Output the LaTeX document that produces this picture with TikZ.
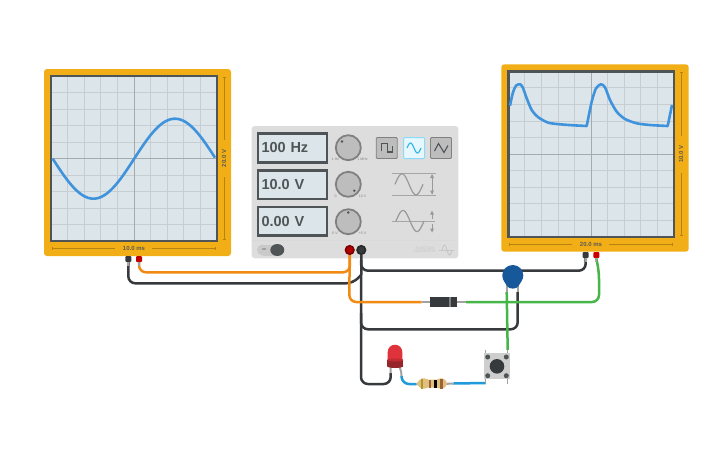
\documentclass[tikz,border=0pt]{standalone}
\usepackage{fontspec}
\setmainfont{Liberation Sans}
\usetikzlibrary{positioning,shapes.geometric}
\definecolor{scopeorange}{HTML}{F2AE16}
\definecolor{screenblue}{HTML}{DCE5E9}
\definecolor{framegray}{HTML}{4F5556}
\definecolor{gridgray}{HTML}{C6CED1}
\definecolor{axisgray}{HTML}{A4ABAD}
\definecolor{traceblue}{HTML}{3F93DC}
\definecolor{genbody}{HTML}{DDDDDD}
\definecolor{knobgray}{HTML}{BDBDBD}
\definecolor{wireblack}{HTML}{363A3C}
\definecolor{wireorange}{HTML}{F08A12}
\definecolor{wiregreen}{HTML}{46B649}
\definecolor{wireblue}{HTML}{1E9BD8}
\definecolor{leadgray}{HTML}{A2A2A2}
\definecolor{capblue}{HTML}{17589B}
\definecolor{ledred}{HTML}{E0323A}
\definecolor{leddark}{HTML}{96252A}
\definecolor{restan}{HTML}{E2BE80}
\definecolor{labelgray}{HTML}{5C5C50}
\tikzset{
  wire/.style={line width=2.5pt,rounded corners=7pt},
  lead/.style={line width=2pt,leadgray},
  scopebody/.style={fill=scopeorange,rounded corners=3pt},
  screenframe/.style={fill=screenblue,draw=framegray,line width=2.4pt},
  gridline/.style={gridgray,line width=1pt},
  trace/.style={traceblue,line width=2.6pt,line join=round},
  ruler/.style={scopeorange!75!black,line width=0.6pt},
  display/.style={draw=framegray,fill=screenblue,line width=2.8pt,minimum width=69pt,minimum height=28.5pt,inner sep=0pt,font=\bfseries\fontsize{14.5}{16}\selectfont,text=framegray,align=left},
  knob/.style={circle,draw=gray,fill=knobgray,line width=1.8pt,minimum size=25pt,inner sep=0pt},
  tinylabel/.style={font=\fontsize{3.5}{4}\selectfont,text=gray,inner sep=0pt},
  wavebutton/.style={draw=gray,fill=knobgray,line width=0.8pt,rounded corners=1pt,minimum size=21pt,inner sep=0pt},
  terminal/.style={circle,draw=#1!70!black,fill=#1,line width=1.6pt,minimum size=8.5pt,inner sep=0pt},
  plug/.style={fill=#1,rounded corners=1pt,minimum width=6pt,minimum height=6pt,inner sep=0pt},
  scopelabel/.style={font=\bfseries\fontsize{6}{7}\selectfont,text=labelgray,inner sep=0pt}
}
\newcommand{\scopegrid}[4]{% left, top, right, bottom
  \foreach \i in {1,...,9}{
    \draw[gridline] ({#1+\i*(#3-#1)/10},#2) -- ({#1+\i*(#3-#1)/10},#4);
    \draw[gridline] (#1,{#2+\i*(#4-#2)/10}) -- (#3,{#2+\i*(#4-#2)/10});
  }
  \draw[axisgray,line width=1pt] ({(#1+#3)/2},#2) -- ({(#1+#3)/2},#4);
  \draw[axisgray,line width=1pt] (#1,{(#2+#4)/2}) -- (#3,{(#2+#4)/2});
}
\begin{document}
\begin{tikzpicture}[x=1pt,y=-1pt]
  \useasboundingbox[fill=white] (0,0) rectangle (725,453);

  % left scope
  \fill[scopebody] (44,69) rectangle (231,256);
  \draw[screenframe] (51,76) rectangle (217,241);
  \scopegrid{51}{76}{217}{241}
  \draw[framegray,line width=2.4pt] (51,76) rectangle (217,241);
  \draw[trace,domain=52.7:215,samples=70] plot (\x,{158.7+40*sin((\x-52.7)/163*360)});
  \node[scopelabel] (timeleft) at (134,248.5) {10.0 ms};
  \draw[ruler] (52.5,247) -- (52.5,250) (52.5,248.5) -- (115,248.5) (152,248.5) -- (215.5,248.5) (215.5,247) -- (215.5,250);
  \node[scopelabel,rotate=90] (voltleft) at (224,158.5) {20.0 V};
  \draw[ruler] (222.5,77) -- (225.5,77) (224,77) -- (224,140) (224,177) -- (224,239) (222.5,239) -- (225.5,239);

  % right scope
  \fill[scopebody] (501.3,64.3) rectangle (688.7,251.7);
  \draw[screenframe] (508.3,71.3) rectangle (674,237);
  \scopegrid{508.3}{71.3}{674}{237}
  \draw[framegray,line width=2.4pt] (508.3,71.3) rectangle (674,237);
  \draw[trace] plot[smooth,tension=0.45] coordinates {(510,105.7) (512.7,93.3) (516,85.7) (520,84.3) (522.7,87.3) (526.7,98.3) (531.7,110) (538.3,117.3) (548.3,122.7) (560,124.3) (573.3,125.3) (586.7,126)}
    -- plot[smooth,tension=0.45] coordinates {(586.7,126) (591.7,101.7) (596,88.3) (601,84.3) (605,87.3) (610,100) (616.7,111.7) (625,119) (636.7,123.3) (650,125) (667.7,126)} -- (672,105);
  \node[scopelabel] (timeright) at (591,244) {20.0 ms};
  \draw[ruler] (509.5,242.5) -- (509.5,245.5) (509.5,244) -- (572,244) (609,244) -- (672.5,244) (672.5,242.5) -- (672.5,245.5);
  \node[scopelabel,rotate=90] (voltright) at (681,154) {10.0 V};
  \draw[ruler] (679.5,72) -- (682.5,72) (681,72) -- (681,136) (681,173) -- (681,235) (679.5,235) -- (682.5,235);

  % function generator
  \fill[genbody,rounded corners=3pt] (251.7,126) rectangle (458.3,258.3);
  \draw[gray!30,line width=0.8pt] (252,240.7) -- (458,240.7);
  \node[display,text width=62pt] (freq) at (292.5,148) {100 Hz};
  \node[display,text width=62pt] (ampl) at (292.5,184.8) {10.0 V};
  \node[display,text width=62pt] (offs) at (292.5,221.2) {0.00 V};
  \node[knob] (knobf) at (348.3,147.7) {};
  \node[knob] (knoba) at (348.3,184.3) {};
  \node[knob] (knobo) at (348.3,221.7) {};
  \fill[framegray] (342,141.5) circle (1.3pt) (354.3,190.7) circle (1.3pt) (348.2,212.5) circle (1.3pt);
  \node[tinylabel] (labfa) at (335.5,159.5) {1 Hz};
  \node[tinylabel] (labfb) at (362.5,159.5) {1 MHz};
  \node[tinylabel] (labaa) at (335.5,196.5) {0};
  \node[tinylabel] (labab) at (362.5,196.5) {10 V};
  \node[tinylabel] (laboa) at (334.5,233.5) {-5 V};
  \node[tinylabel] (labob) at (362.5,233.5) {+5 V};
  \node[wavebutton] (square) at (386.7,148) {};
  \node[wavebutton,draw=cyan!45,fill=white!90!cyan,line width=1pt] (sine) at (414,148) {};
  \node[wavebutton] (triangle) at (441,148) {};
  \draw[framegray,line width=1.1pt] (381.7,151) -- (381.7,143.3) -- (387.3,143.3) -- (387.3,152) -- (392.7,152) -- (392.7,146);
  \draw[traceblue!70!cyan,line width=1.1pt,domain=407:421,samples=30] plot (\x,{148-5*sin((\x-407)/14*360)});
  \draw[framegray,line width=1.1pt] (434.5,151) -- (438.5,143.5) -- (444,152.5) -- (448,145.5);

  \draw[gray!70,line width=0.7pt] (391.7,173.3) -- (435.7,173.3) (391.7,195.3) -- (435.7,195.3);
  \draw[gray!80,line width=1.2pt,domain=395:423,samples=40] plot (\x,{184.3-10.5*sin((\x-395)/28*360)});
  \draw[gray!80,line width=0.6pt] (432,175) -- (432,193.5);
  \fill[gray!80] (432,174) -- (430,178) -- (434,178) -- cycle (432,194.5) -- (430,190.5) -- (434,190.5) -- cycle;
  \draw[gray!70,line width=0.7pt] (392,221) -- (435,221);
  \draw[gray!80,line width=1.2pt,domain=396:424,samples=40] plot (\x,{221-10.5*sin((\x-396)/28*360)});
  \draw[gray!80,line width=0.6pt] (432,213) -- (432,218.5) (432,224) -- (432,231);
  \fill[gray!80] (432,210.7) -- (430,214.7) -- (434,214.7) -- cycle (432,232.5) -- (430,228.5) -- (434,228.5) -- cycle;

  \fill[knobgray!80] (262.5,244.5) rectangle (278,255.5);
  \fill[knobgray!80] (262.5,250) circle (5.5pt);
  \node[tinylabel,text=framegray] (onlabel) at (264,250) {on};
  \node[ellipse,fill=framegray,minimum width=14pt,minimum height=12pt,inner sep=0pt] (switch) at (277.3,250) {};
  \node[tinylabel,text=gray!45,align=center] (genlabel) at (425,250) {FUNCTION\\[-0.5pt]GENERATOR};
  \draw[gray!45,line width=0.6pt] (439,250) -- (454,250);
  \draw[gray!45,line width=0.9pt,domain=442:452,samples=20] plot (\x,{250-5*sin((\x-442)/10*360)});

  % terminals and plugs
  \node[plug=wireblack] (blackleft) at (128.3,259) {};
  \node[plug=red!75!black] (redleft) at (139,259) {};
  \node[plug=wireblack] (blackright) at (585.7,255) {};
  \node[plug=red!80!black] (redright) at (596.3,255) {};
  \node[terminal=red!70!black] (genred) at (349.7,250) {};
  \node[terminal=wireblack] (genblack) at (361.3,250) {};

  % parts
  \coordinate (capleft) at (506.7,292);
  \coordinate (capright) at (517.7,292);
  \coordinate (ledminus) at (390.7,373);
  \coordinate (ledplus) at (401.5,376);
  \coordinate (diodeleft) at (421.7,302);
  \coordinate (dioderight) at (466,302);
  \coordinate (resleft) at (416.7,384);
  \coordinate (resright) at (453.3,383.5);
  \coordinate (btntop) at (507.7,350);
  \coordinate (btnleft) at (485.7,383);
  \coordinate (jointwo) at (361,260);
  \coordinate (jointhree) at (361,313);

  % wires
  \draw[wire,wireblack] (blackleft.south) -- (128.3,283.3) -- (353,283.3) -- (361,275);
  \draw[wire,wireblack] (genblack) -- (361,384) -- (390.7,384) -- (ledminus);
  \draw[wire,wireblack] (jointwo) -- (361,270.7) -- (585.7,270.7) -- (blackright.south);
  \draw[wire,wireblack] (jointhree) -- (361,329.3) -- (517.7,329.3) -- (capright);
  \draw[wire,wireorange] (redleft.south) -- (139,272.3) -- (350,272.3) -- (genred);
  \draw[wire,wireorange] (genred) -- (349.3,302) -- (diodeleft);
  \draw[wire,wiregreen] (dioderight) -- (599,302) -- (599,272) -- (redright.south);
  \draw[wire,wiregreen] (capleft) -- (btntop);
  \draw[wire,wireblue] (ledplus) -- (402,384) -- (resleft);
  \draw[wire,wireblue] (resright) -- (btnleft);
  \draw[lead] (blackleft.south) -- +(0,3.5);
  \draw[lead] (redleft.south) -- +(0,3.5);
  \draw[lead] (blackright.south) -- +(0,3.5);
  \draw[lead] (redright.south) -- +(0,3.5);

  % diode
  \draw[lead] (diodeleft) -- (431,302) (457,302) -- (dioderight);
  \fill[wireblack] (430,297.3) rectangle (457.3,307.3);
  \fill[gray] (448.6,297.3) rectangle (450.6,307.3);

  % capacitor
  \draw[lead] (506.7,284) -- (capleft) (517.7,284) -- (capright);
  \fill[capblue] (512.8,265) .. controls (519,265) and (523.3,270) .. (523.3,275.5) .. controls (523.3,280) and (520,283) .. (518.5,286) .. controls (517.5,288) and (515,288.6) .. (512.8,288.6) .. controls (510.5,288.6) and (508,288) .. (507,286) .. controls (505.5,283) and (502.3,280) .. (502.3,275.5) .. controls (502.3,270) and (506.5,265) .. (512.8,265) -- cycle;

  % led
  \draw[lead] (390.7,366) -- (ledminus) (399.5,366) .. controls (400.5,370) and (401.5,372) .. (ledplus);
  \fill[ledred] (387.7,362) -- (387.7,352) arc[start angle=180,end angle=0,radius=7.3pt] -- (402.3,362) -- cycle;
  \fill[leddark] (387,360) rectangle (403.3,366) ;
  \fill[leddark] (395.2,366) ellipse (8.2pt and 2pt);
  \fill[ledred!55!leddark] (395.2,360) ellipse (8.2pt and 1.5pt);

  % resistor
  \draw[lead] (resleft) -- (421,384) (443,384) -- (resright);
  \fill[restan] (416.7,383.5) .. controls (420,377.5) and (424,377.5) .. (428,379.5) -- (437,379.5) .. controls (441,377.5) and (445,377.5) .. (447.3,383.5) .. controls (445,389.5) and (441,389.5) .. (437,387.5) -- (428,387.5) .. controls (424,389.5) and (420,389.5) .. (416.7,383.5) -- cycle;
  \fill[olive!70!restan] (421,378.5) rectangle (422.5,388.5);
  \fill[brown!80!black] (428.8,379.5) rectangle (431.4,387.5);
  \fill[black] (434,379.5) rectangle (437,387.5);
  \fill[brown!80!black] (440,378.5) rectangle (442.5,388.5);

  % pushbutton
  \draw[lead,line width=1.2pt] (485.7,349.5) -- (485.7,384) (507.7,349.5) -- (507.7,384);
  \fill[knobgray!75] (484.3,353.3) rectangle (510,379.3);
  \fill[framegray] (487.7,357) circle (2.5pt) (506.3,357) circle (2.5pt) (487.7,375.7) circle (2.5pt) (506.3,375.7) circle (2.5pt);
  \fill[wireblack] (497,366.3) circle (7.3pt);
\end{tikzpicture}
\end{document}
